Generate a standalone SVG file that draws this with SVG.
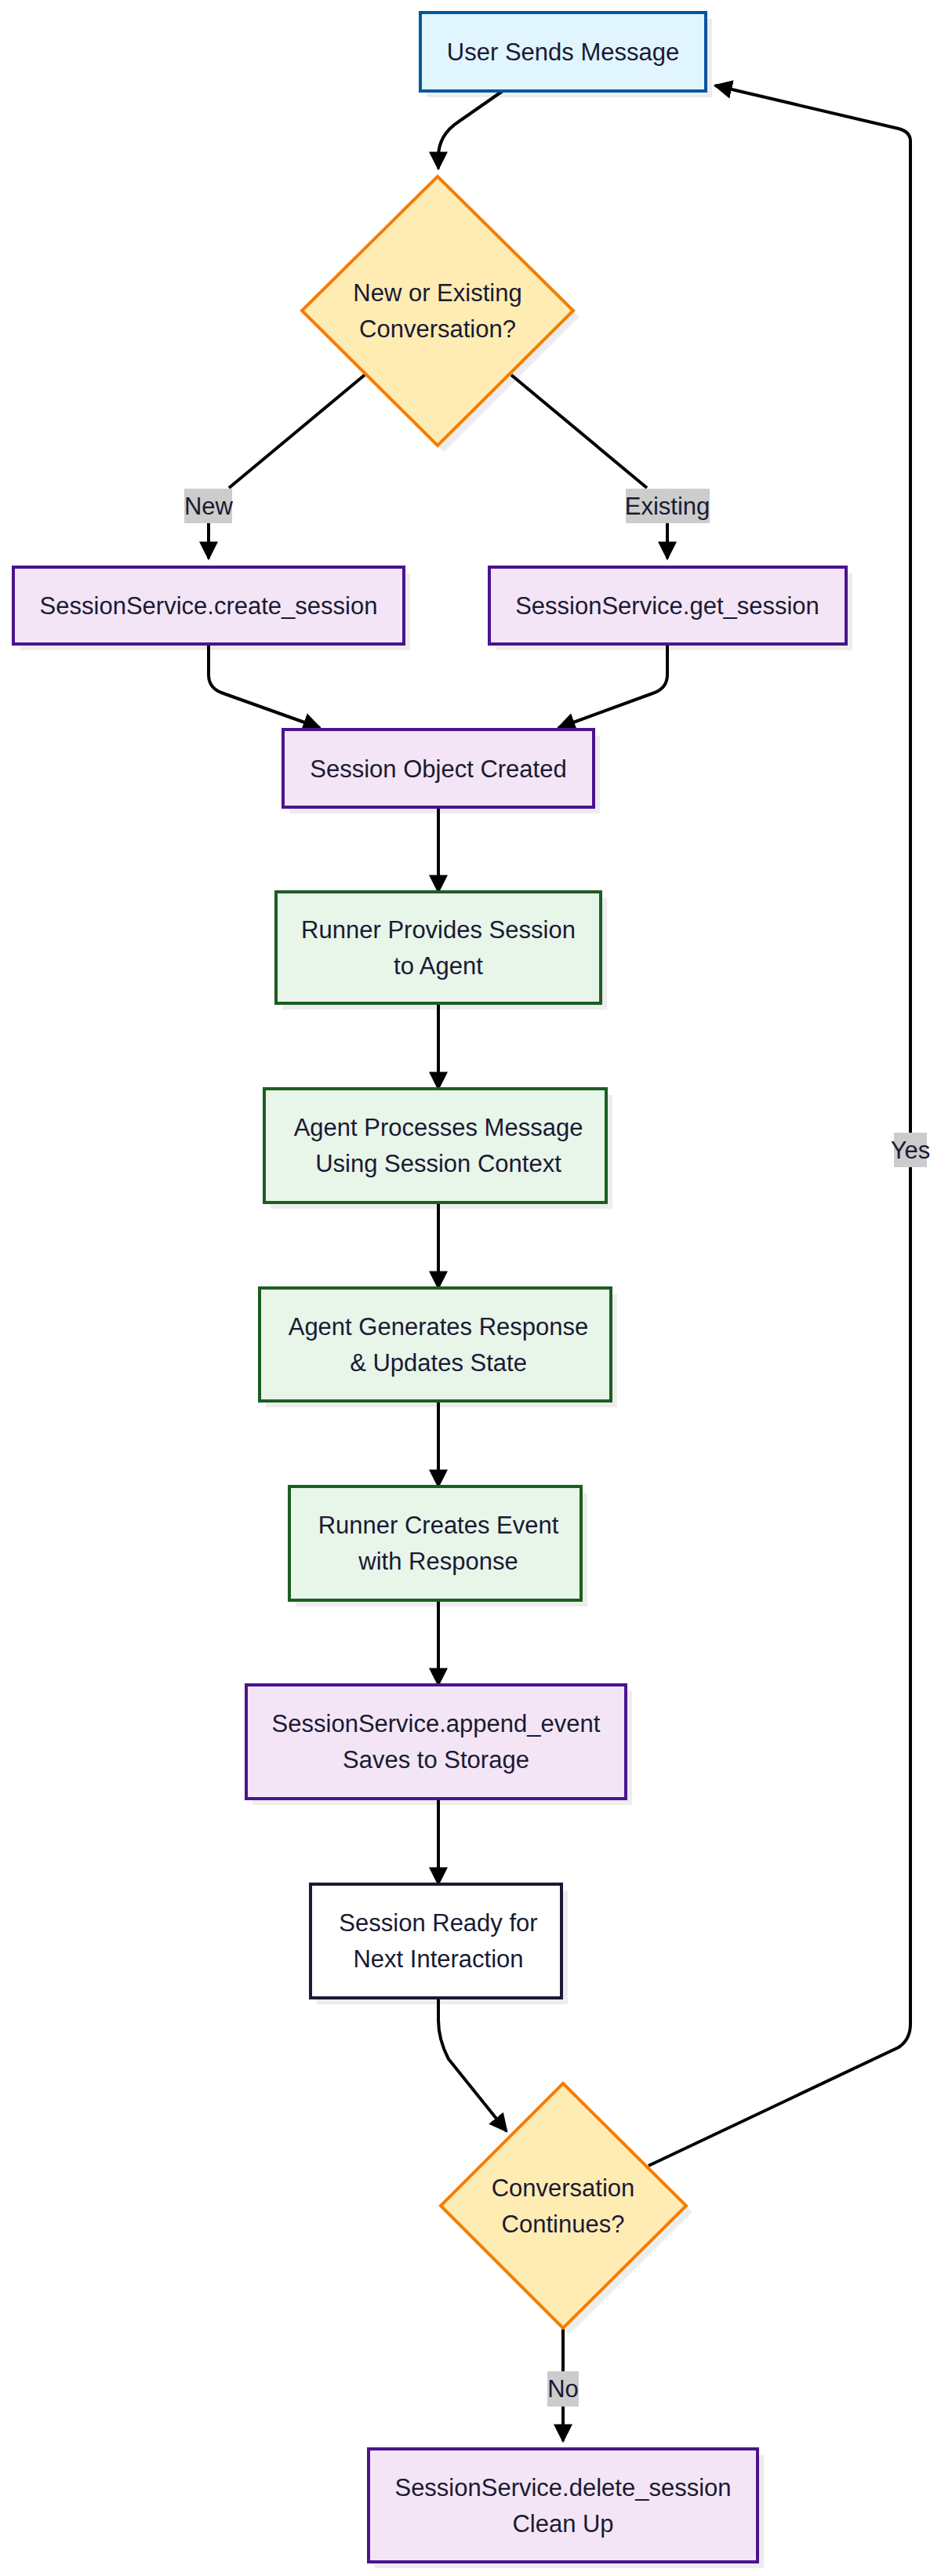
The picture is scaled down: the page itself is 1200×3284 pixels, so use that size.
<svg xmlns="http://www.w3.org/2000/svg" width="1200" height="3284" viewBox="0 0 1200 3284">
<defs>
<marker id="ah" viewBox="0 0 10 10" refX="9" refY="5" markerWidth="6" markerHeight="6" markerUnits="strokeWidth" orient="auto"><path d="M0,0 L10,5 L0,10 z" fill="#000"/></marker>
<style>
text{font-family:"Liberation Sans",Arial,sans-serif;font-size:31px;fill:#1a1a33;text-anchor:middle;dominant-baseline:central}
.sh{fill:#000;opacity:0.07}
.blue{fill:#e1f5fe;stroke:#01579b;stroke-width:4}
.dia{fill:#ffecb3;stroke:#f57c00;stroke-width:4}
.pur{fill:#f3e5f5;stroke:#4a148c;stroke-width:4}
.grn{fill:#e8f5e9;stroke:#1b5e20;stroke-width:4}
.wht{fill:#fff;stroke:#1a1a33;stroke-width:4}
.e{fill:none;stroke:#000;stroke-width:4;marker-end:url(#ah)}
.en{fill:none;stroke:#000;stroke-width:4}
.lb{fill:#cccccc}
</style>
</defs>
<g id="connectors">
<path class="e" d="M641,116 L585,155 Q559,172 559,200 L559,215"/>
<path class="en" d="M465,478 L292,622"/>
<path class="e" d="M266,667 L266,712"/>
<path class="en" d="M652,478 L825,622"/>
<path class="e" d="M851,667 L851,712"/>
<path class="e" d="M266,821 L266,860 Q266,878 285,884 L408,928"/>
<path class="e" d="M851,821 L851,860 Q851,878 832,884 L712,928"/>
<path class="e" d="M559,1029 L559,1137"/>
<path class="e" d="M559,1279 L559,1388"/>
<path class="e" d="M559,1533 L559,1642"/>
<path class="e" d="M559,1786 L559,1895"/>
<path class="e" d="M559,2040 L559,2148"/>
<path class="e" d="M559,2293 L559,2402"/>
<path class="e" d="M559,2547 L559,2575 Q559,2600 572,2625 L646,2717"/>
<path class="en" d="M718,2968 L718,3023"/>
<path class="e" d="M718,3068 L718,3112"/>
<path class="e" d="M827,2761 L1146,2610 Q1161,2600 1161,2580 L1161,180 Q1161,168 1146,164 L912,109"/>
<rect class="lb" x="235" y="623" width="61" height="44"/><text x="266" y="645">New</text>
<rect class="lb" x="798" y="623" width="107" height="44"/><text x="851" y="645">Existing</text>
<rect class="lb" x="1140" y="1444" width="42" height="44"/><text x="1161" y="1466">Yes</text>
<rect class="lb" x="698" y="3023" width="40" height="45"/><text x="718" y="3045">No</text>
</g>
<g id="n1"><rect class="sh" x="544" y="24" width="364" height="100"/><rect class="blue" x="536" y="16" width="364" height="100"/><text x="718" y="66">User Sends Message</text></g>
<g id="n2"><path class="sh" d="M566,233 L739,404 L566,576 L393,404z"/><path class="dia" d="M558,225 L731,396 L558,568 L385,396z"/><text x="558" y="373">New or Existing</text><text x="558" y="419">Conversation?</text></g>
<g id="n3"><rect class="sh" x="25" y="731" width="498" height="98"/><rect class="pur" x="17" y="723" width="498" height="98"/><text x="266" y="772">SessionService.create_session</text></g>
<g id="n4"><rect class="sh" x="632" y="731" width="455" height="98"/><rect class="pur" x="624" y="723" width="455" height="98"/><text x="851" y="772">SessionService.get_session</text></g>
<g id="n5"><rect class="sh" x="369" y="938" width="396" height="99"/><rect class="pur" x="361" y="930" width="396" height="99"/><text x="559" y="980">Session Object Created</text></g>
<g id="n6"><rect class="sh" x="360" y="1145" width="414" height="142"/><rect class="grn" x="352" y="1137" width="414" height="142"/><text x="559" y="1185">Runner Provides Session</text><text x="559" y="1231">to Agent</text></g>
<g id="n7"><rect class="sh" x="345" y="1396" width="436" height="145"/><rect class="grn" x="337" y="1388" width="436" height="145"/><text x="559" y="1437">Agent Processes Message</text><text x="559" y="1483">Using Session Context</text></g>
<g id="n8"><rect class="sh" x="339" y="1650" width="448" height="144"/><rect class="grn" x="331" y="1642" width="448" height="144"/><text x="559" y="1691">Agent Generates Response</text><text x="559" y="1737">&amp; Updates State</text></g>
<g id="n9"><rect class="sh" x="377" y="1903" width="372" height="145"/><rect class="grn" x="369" y="1895" width="372" height="145"/><text x="559" y="1944">Runner Creates Event</text><text x="559" y="1990">with Response</text></g>
<g id="n10"><rect class="sh" x="322" y="2156" width="484" height="145"/><rect class="pur" x="314" y="2148" width="484" height="145"/><text x="556" y="2197">SessionService.append_event</text><text x="556" y="2243">Saves to Storage</text></g>
<g id="n11"><rect class="sh" x="404" y="2410" width="320" height="145"/><rect class="wht" x="396" y="2402" width="320" height="145"/><text x="559" y="2451">Session Ready for</text><text x="559" y="2497">Next Interaction</text></g>
<g id="n12"><path class="sh" d="M726,2664 L883,2820 L726,2976 L570,2820z"/><path class="dia" d="M718,2656 L875,2812 L718,2968 L562,2812z"/><text x="718" y="2789">Conversation</text><text x="718" y="2835">Continues?</text></g>
<g id="n13"><rect class="sh" x="478" y="3130" width="496" height="144"/><rect class="pur" x="470" y="3122" width="496" height="144"/><text x="718" y="3171">SessionService.delete_session</text><text x="718" y="3217">Clean Up</text></g>
</svg>
